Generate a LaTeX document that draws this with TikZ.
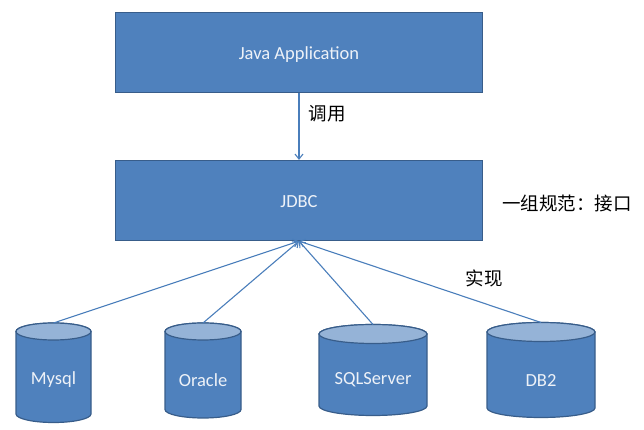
\documentclass[tikz,border=0pt]{standalone}
\usepackage{fontspec}
\setmainfont{Carlito}
\newfontfamily\cjk{Noto Sans CJK SC}
\usetikzlibrary{arrows.meta}
\definecolor{boxfill}{HTML}{4F81BD}
\definecolor{boxline}{HTML}{385D8A}
\definecolor{cyltopfill}{HTML}{95B3D7}
\definecolor{connline}{HTML}{4A7EBB}
\definecolor{labeltext}{HTML}{EEF2F8}
\tikzset{
  box/.style={draw=boxline, line width=1.2pt, fill=boxfill, minimum width=367pt, minimum height=80pt,
    inner sep=0pt, text height=19pt, text depth=4.5pt, text=labeltext, font=\fontsize{18.5}{20}\selectfont},
  cylbody/.style={draw=boxline, line width=1.2pt, fill=boxfill},
  cyltop/.style={draw=boxline, line width=1.2pt, fill=cyltopfill},
  cyltext/.style={text=labeltext, inner sep=0pt, font=\fontsize{18.5}{20}\selectfont},
  conn/.style={draw=connline, line width=1.1pt, -{Straight Barb[length=5pt,width=8pt]}},
  cnlabel/.style={inner sep=0pt, text=black, font=\cjk\fontsize{18.5}{20}\selectfont}
}
\newcommand\dbcyl[7]{%
  \filldraw[cylbody] ({#2-#3},#4) -- ({#2-#3},#5)
    arc[start angle=180,end angle=360,x radius=#3,y radius=#6]
    -- ({#2+#3},#4)
    arc[start angle=0,end angle=180,x radius=#3,y radius=#6] -- cycle;
  \filldraw[cyltop] (#2,#4) ellipse[x radius=#3,y radius=#6];
  \coordinate (#1top) at (#2,{#4+#6});
  \node[cyltext] (#1) at (#2,50) {#7};
}
\begin{document}
\begin{tikzpicture}[x=1pt,y=1pt]
\useasboundingbox (0,0) rectangle (644,430);
\node[box] (java) at (299,377.5) {Java Application};
\node[box] (jdbc) at (299,229.5) {JDBC};
\dbcyl{mysql}{53.5}{37.5}{98.5}{16}{8.5}{Mysql}
\dbcyl{oracle}{203}{38}{98.5}{20.5}{8.5}{Oracle}
\dbcyl{sqlserver}{373}{54}{96}{24}{9.5}{SQLServer}
\dbcyl{dbtwo}{541}{54}{98}{22}{9.5}{DB2}
\draw[conn] (java.south) -- (jdbc.north);
\draw[conn] (mysqltop) -- (jdbc.south);
\draw[conn] (oracletop) -- (jdbc.south);
\draw[conn] (sqlservertop) -- (jdbc.south);
\draw[conn] (dbtwotop) -- (jdbc.south);
\node[cnlabel] (call) at (327,316) {调用};
\node[cnlabel, anchor=west] (spec) at (502,227) {一组规范：接口};
\node[cnlabel] (impl) at (484,152) {实现};
\end{tikzpicture}
\end{document}
